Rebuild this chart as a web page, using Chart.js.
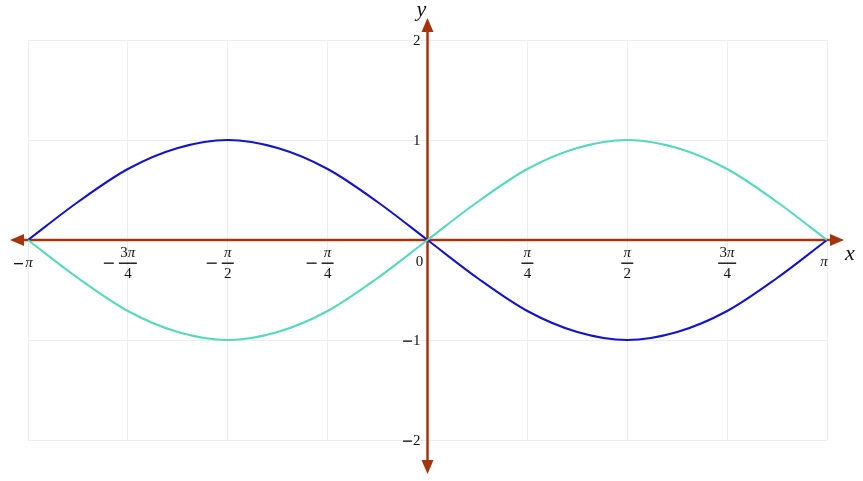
<!DOCTYPE html>
<html>
<head>
<meta charset="utf-8">
<script src="https://cdn.jsdelivr.net/npm/chart.js@4.4.0/dist/chart.umd.min.js"></script>
<style>
  html, body { margin: 0; padding: 0; background: #fff; }
  #wrap { width: 863px; height: 481px; }
</style>
</head>
<body>
<div id="wrap"><canvas id="grafico" width="863" height="481"></canvas></div>
<script>
// pontos (x em radianos, passo de pi/8)
var xValues = [-3.1416, -2.7489, -2.3562, -1.9635, -1.5708, -1.1781, -0.7854, -0.3927, 0,
               0.3927, 0.7854, 1.1781, 1.5708, 1.9635, 2.3562, 2.7489, 3.1416];
var tealValues = [0, -0.38, -0.71, -0.92, -1, -0.92, -0.71, -0.38, 0,
                  0.38, 0.71, 0.92, 1, 0.92, 0.71, 0.38, 0];
var blueValues = [0, 0.38, 0.71, 0.92, 1, 0.92, 0.71, 0.38, 0,
                  -0.38, -0.71, -0.92, -1, -0.92, -0.71, -0.38, 0];

// marcas dos eixos
var xTickValues = [-3.1416, -2.3562, -1.5708, -0.7854, 0, 0.7854, 1.5708, 2.3562, 3.1416];
var xTickLabels = [
  { sign: "-", num: "\u03c0", den: "" },
  { sign: "-", num: "3\u03c0", den: "4" },
  { sign: "-", num: "\u03c0", den: "2" },
  { sign: "-", num: "\u03c0", den: "4" },
  { sign: "", num: "0", den: "" },
  { sign: "", num: "\u03c0", den: "4" },
  { sign: "", num: "\u03c0", den: "2" },
  { sign: "", num: "3\u03c0", den: "4" },
  { sign: "", num: "\u03c0", den: "" }
];
var yTickValues = [-2, -1, 0, 1, 2];
var yTickLabels = ["-2", "-1", "", "1", "2"];

var corEixo = "#a5330e";
var fonte = "'Liberation Serif', serif";
var tam = 15;

function pares(xs, ys) {
  var out = [];
  for (var i = 0; i < xs.length; i++) out.push({ x: xs[i], y: ys[i] });
  return out;
}

function seta(ctx, x, y, dx, dy) {
  // triangulo cheio apontando na direcao (dx, dy)
  var comp = 14, larg = 6;
  var px = -dy, py = dx;
  ctx.beginPath();
  ctx.moveTo(x, y);
  ctx.lineTo(x - dx * comp + px * larg, y - dy * comp + py * larg);
  ctx.lineTo(x - dx * comp - px * larg, y - dy * comp - py * larg);
  ctx.closePath();
  ctx.fill();
}

// "3" reto + "pi" italico, centrado em cx
function numerador(ctx, txt, cx, cy) {
  var dig = txt.replace("\u03c0", "");
  ctx.font = tam + "px " + fonte;
  var wd = ctx.measureText(dig).width;
  ctx.font = "italic " + tam + "px " + fonte;
  var wp = ctx.measureText("\u03c0").width;
  var x = cx - (wd + wp) / 2;
  ctx.textAlign = "left";
  ctx.font = tam + "px " + fonte;
  if (dig) ctx.fillText(dig, x, cy);
  ctx.font = "italic " + tam + "px " + fonte;
  ctx.fillText("\u03c0", x + wd, cy);
  return wd + wp;
}

var eixosPlugin = {
  id: "eixos",
  beforeDatasetsDraw: function (chart) {
    var ctx = chart.ctx;
    var sx = chart.scales.x, sy = chart.scales.y;
    var x0 = sx.getPixelForValue(0), y0 = sy.getPixelForValue(0);
    var area = chart.chartArea;
    ctx.save();
    ctx.strokeStyle = corEixo;
    ctx.fillStyle = corEixo;
    ctx.lineWidth = 2.5;
    ctx.beginPath();
    ctx.moveTo(area.left - 10, y0);
    ctx.lineTo(area.right + 10, y0);
    ctx.moveTo(x0, area.top - 14);
    ctx.lineTo(x0, area.bottom + 24);
    ctx.stroke();
    seta(ctx, area.left - 18, y0, -1, 0);
    seta(ctx, area.right + 17, y0, 1, 0);
    seta(ctx, x0, area.top - 22, 0, -1);
    seta(ctx, x0, area.bottom + 34, 0, 1);
    ctx.restore();
  },
  afterDraw: function (chart) {
    var ctx = chart.ctx;
    var sx = chart.scales.x, sy = chart.scales.y;
    var x0 = sx.getPixelForValue(0), y0 = sy.getPixelForValue(0);
    ctx.save();
    ctx.fillStyle = "#111";
    ctx.textBaseline = "middle";

    // rotulos do eixo x
    for (var i = 0; i < xTickValues.length; i++) {
      var px = sx.getPixelForValue(xTickValues[i]);
      var t = xTickLabels[i];
      if (t.den === "") {
        if (t.num === "0") {
          ctx.font = tam + "px " + fonte;
          ctx.textAlign = "center";
          ctx.fillText("0", px - 8, y0 + 22);
        } else if (t.sign) {
          ctx.fillRect(px - 14, y0 + 23, 9, 1.3);
          numerador(ctx, t.num, px + 1, y0 + 23);
        } else {
          numerador(ctx, t.num, px - 3, y0 + 22);
        }
        continue;
      }
      var wNum = numerador(ctx, t.num, px, y0 + 13);
      ctx.font = tam + "px " + fonte;
      ctx.textAlign = "center";
      ctx.fillText(t.den, px, y0 + 34);
      var w = Math.max(wNum, 9) + 3;
      ctx.fillRect(px - w / 2, y0 + 22.5, w, 1.4);
      if (t.sign) {
        ctx.fillRect(px - w / 2 - 15, y0 + 22.5, 10, 1.3);
      }
    }

    // rotulos do eixo y
    ctx.font = tam + "px " + fonte;
    ctx.textAlign = "right";
    for (var j = 0; j < yTickValues.length; j++) {
      if (!yTickLabels[j]) continue;
      var py = sy.getPixelForValue(yTickValues[j]) + 1;
      var txt = yTickLabels[j].replace("-", "");
      ctx.fillText(txt, x0 - 7, py);
      if (yTickLabels[j].charAt(0) === "-") {
        var wt = ctx.measureText(txt).width;
        ctx.fillRect(x0 - 7 - wt - 10, py - 0.5, 9, 1.3);
      }
    }

    // nomes dos eixos
    ctx.font = "italic 22px " + fonte;
    ctx.textAlign = "center";
    ctx.fillText("x", chart.chartArea.right + 23, y0 + 14);
    ctx.fillText("y", x0 - 6, 10);
    ctx.restore();
  }
};

new Chart("grafico", {
  type: "line",
  data: {
    datasets: [{
      data: pares(xValues, tealValues),
      borderColor: "#55d9bb",
      borderWidth: 2,
      pointRadius: 0,
      cubicInterpolationMode: "monotone",
      fill: false
    }, {
      data: pares(xValues, blueValues),
      borderColor: "#1212cf",
      borderWidth: 2,
      pointRadius: 0,
      cubicInterpolationMode: "monotone",
      fill: false
    }]
  },
  options: {
    responsive: false,
    animation: false,
    layout: { padding: { left: 28, right: 36, top: 40, bottom: 41 } },
    plugins: { legend: { display: false }, tooltip: { enabled: false } },
    scales: {
      x: {
        type: "linear",
        min: -3.1416,
        max: 3.1416,
        afterBuildTicks: function (scale) {
          scale.ticks = xTickValues.map(function (v) { return { value: v }; });
        },
        ticks: { display: false },
        border: { display: false },
        grid: { color: "#ededed", lineWidth: 1, drawTicks: false }
      },
      y: {
        type: "linear",
        min: -2,
        max: 2,
        afterBuildTicks: function (scale) {
          scale.ticks = yTickValues.map(function (v) { return { value: v }; });
        },
        ticks: { display: false },
        border: { display: false },
        grid: { color: "#ededed", lineWidth: 1, drawTicks: false }
      }
    }
  },
  plugins: [eixosPlugin]
});
</script>
</body>
</html>
